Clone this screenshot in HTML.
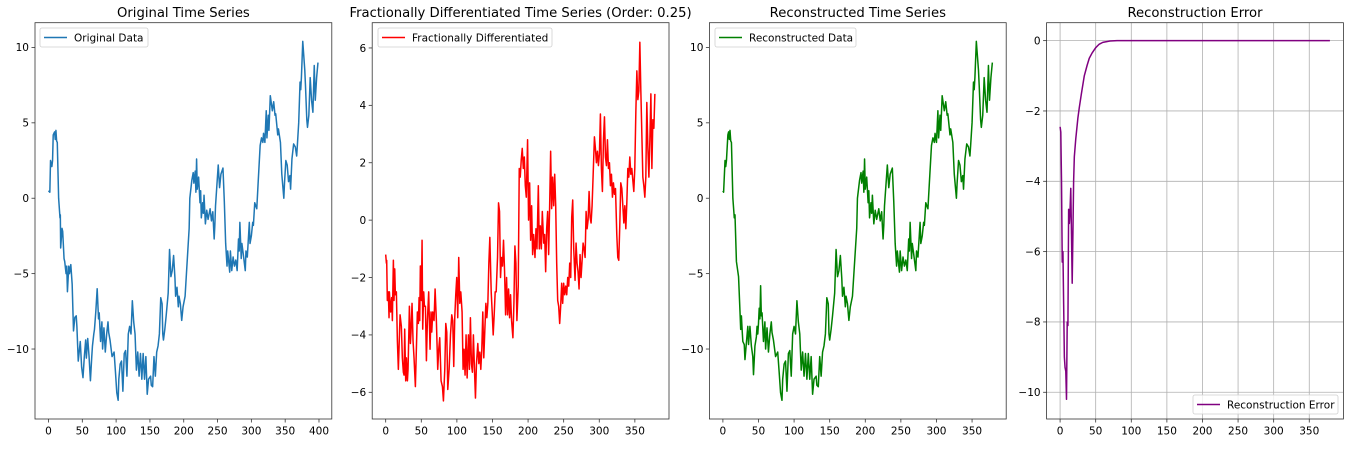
<!DOCTYPE html>
<html><head><meta charset="utf-8"><style>
html,body{margin:0;padding:0;background:#fff;}
svg{display:block;font-family:"DejaVu Sans","Liberation Sans",sans-serif;}
</style></head><body>
<svg id="fig" width="1358" height="455" viewBox="0 0 1358 455" xmlns="http://www.w3.org/2000/svg"></svg>
<script>
const originalData = [[0,0.5],[2,0.4],[3,2.5],[5,2.1],[6,2.5],[7,4.2],[9,4.4],[10,3.9],[11,4.5],[12,3.8],[13,3.7],[15,0],[17,-1.3],[17.5,-1.1],[18,-3.3],[20,-2],[21,-2.2],[23,-4],[24,-4.2],[26,-5],[27,-4.5],[28,-6.2],[30,-4.5],[31,-5],[33,-4.4],[35,-5.7],[37,-8.8],[39,-7.9],[41,-7.8],[42,-8.5],[44,-10.8],[47,-9.5],[49,-11.2],[51,-11.9],[53,-10.5],[55,-9.4],[56,-10.6],[58,-9.3],[60,-10.5],[62,-12.1],[64,-10.5],[65,-9.8],[67,-9],[68,-8.7],[70,-7.5],[72,-6],[74,-8],[75,-7.6],[77,-9.5],[79,-8.2],[80,-10],[82,-8.6],[84,-10.2],[86,-9],[88,-8.2],[89,-8.9],[91,-9.4],[94,-10.5],[97,-10.2],[99,-11.5],[101,-12.9],[103,-13.4],[104,-12],[106,-11],[108,-10.8],[110,-12.8],[112,-10.3],[114,-10.1],[116,-11.8],[118,-9],[120,-8.5],[122,-9],[124,-6.8],[126,-8.2],[128,-9],[130,-11.4],[132,-10.2],[134,-11.8],[136,-10.3],[138,-12],[140,-10.3],[142,-12],[144,-10.5],[146,-13],[148,-12],[151,-11.8],[152,-12.4],[154,-12.5],[156,-10.5],[158,-11.8],[160,-10.2],[162,-9.8],[164,-9],[166,-6.6],[168,-7],[169,-9],[170,-9.4],[172,-8.7],[174,-7.8],[177,-6.3],[179,-3.4],[181,-5.2],[183,-4.8],[185,-3.8],[187,-5.3],[188,-6.5],[190,-5.9],[192,-7.2],[193,-6.5],[195,-7],[197,-8.1],[199,-7.2],[202,-6.5],[204,-5],[208,-2],[209,0],[212,1.2],[214,1.7],[215,1],[217,1.8],[218,0.4],[219,2.6],[220,0.6],[222,1.4],[224,-0.3],[225,0.5],[226,-1.3],[228,-0.3],[229,-1],[230,0.2],[232,-1.7],[234,-0.8],[236,-1.4],[239,-0.7],[241,-1.5],[243,-0.9],[245,-2.7],[246,-1.8],[247,-0.5],[251,2.2],[253,0.7],[255,1.6],[258,2],[260,-0.2],[262,-3],[264,-4.5],[265,-3.5],[268,-4.9],[269,-3.5],[271,-4.8],[273,-3.9],[275,-4.5],[277,-4.1],[279,-4.8],[281,-2.7],[282,-3.5],[283,-1.6],[285,-4],[286,-3],[288,-3.7],[291,-4.8],[292,-3.5],[294,-3.9],[297,-1.6],[298,-3],[300,-2.5],[302,-1.6],[303,-1.8],[305,-0.3],[308,-0.7],[310,1],[313,3.5],[315,4],[317,3.7],[318,4.3],[320,3.7],[322,5.8],[323,4],[325,5.5],[326,4.5],[328,6.8],[331,5.8],[333,6.4],[335,5.5],[336,5.6],[339,4.2],[340,4.6],[343,3.7],[345,1.6],[348,0],[349,1],[351,2.5],[353,2.2],[355,1.1],[357,1.5],[358,0.6],[360,2.6],[362.5,3.6],[365,3.4],[367,2.8],[368,3.5],[370,5],[372,7.7],[373,7.2],[374,8],[376,10.4],[379,8.5],[380,7.5],[382,5.2],[383,4.7],[385,5.5],[387,8],[389,6.5],[391,5.7],[393,8.8],[394.5,6.5],[396.5,8],[398.5,9]];

const fracData = [[0,-1.2],[1,-1.5],[1.4,-1.4],[2.3,-2.8],[3.7,-2.5],[4.7,-3.4],[5.2,-2.5],[6.1,-2.9],[7,-3.2],[8.4,-2.7],[9.4,-3.5],[9.8,-2.8],[10.8,-1.4],[11.7,-2.8],[12.7,-1.7],[13.6,-2.6],[15,-2.5],[16.4,-4.2],[17.8,-5.2],[18.7,-4.5],[20.2,-3.3],[21.1,-3.5],[22,-3.7],[23.4,-4.8],[24.8,-5.3],[25.8,-5.4],[26.7,-3.8],[28.1,-5.6],[29.1,-4.8],[30.5,-5.6],[31.4,-5.2],[33.3,-3],[34.7,-4.3],[35.6,-3.9],[37,-2.9],[38.4,-4.2],[39.8,-4.8],[41.7,-5.8],[43.1,-4.5],[44.5,-3.2],[45.9,-3.6],[46.9,-2.7],[47.8,-3.5],[48.7,-1.6],[50.1,-2.8],[51.1,-0.7],[52,-3.8],[53.4,-2.5],[54.4,-3],[55.8,-3],[57.2,-4.9],[58.6,-3.5],[60.4,-2.5],[62.3,-4.5],[63.7,-3.2],[64.7,-3.9],[66.1,-3.2],[67.9,-3.5],[69.4,-2.4],[71.2,-3.5],[73.1,-5.2],[74.5,-4.5],[75.9,-4.1],[77.8,-5.6],[79.7,-5.8],[81.1,-6.3],[83,-5.2],[84.4,-3.6],[85.8,-3.9],[87.2,-5.9],[89.1,-5.2],[91,-4],[92.8,-3.3],[94.2,-3.5],[95.6,-5.1],[97,-3.4],[98.4,-2.6],[99.8,-2],[101.2,-3.4],[102.6,-1.3],[104.1,-2.9],[105.5,-2.5],[107.3,-3.2],[108.7,-5.2],[110.1,-4.5],[111.5,-5.4],[112.9,-4],[114.4,-5.5],[116.2,-4],[117.6,-5.2],[119,-3.4],[120.4,-5],[121.8,-5.3],[123.2,-4],[124.7,-5.2],[126.1,-6.2],[127.5,-5],[129.4,-4.3],[130.8,-5],[132.2,-4.6],[133.6,-5.2],[135,-4.5],[136.4,-3.2],[137.8,-4.8],[139.3,-3.8],[140.7,-2.9],[142.1,-3.4],[143.5,-2.9],[144.9,-1.5],[146.3,-0.6],[148.2,-2.5],[149.6,-3.2],[151,-4],[152.4,-3.3],[153.8,-2.5],[155.2,-2.5],[157.1,-1.3],[158.5,0.6],[159.9,0.3],[161.3,-2],[162.7,-1.3],[164.1,-1.6],[165.5,-0.7],[167,-1.8],[168.4,-3.3],[169.8,-2],[171.2,-3.3],[172.6,-2.4],[174,-3.4],[175.4,-2.6],[176.8,-3.5],[178.7,-4.1],[180.1,-2.9],[181.5,-0.9],[182.9,-1.5],[184.3,-3.5],[186.2,-2.3],[187.6,1.8],[189,1.5],[190.4,2.1],[191.8,2.5],[193.3,1.8],[194.7,2.2],[196.1,1.2],[197.5,0.8],[199.3,2.8],[200.7,0],[202.2,1.3],[203.6,-0.7],[205,0.5],[206.4,-1.2],[207.8,-0.5],[209.7,-1.3],[211.1,-0.3],[212.5,-1],[214.4,1.2],[215.8,-1],[217.2,-0.2],[218.6,-1],[220,0.3],[221.9,-0.8],[223.3,-0.5],[224.7,-1.8],[226.1,-0.3],[227.5,0.3],[228.9,-1.2],[230.3,0.5],[231.7,2.4],[233.1,0.4],[234.5,1.5],[236,0.5],[237.4,1.6],[238.8,0.5],[240.2,-1.5],[241.6,-2.8],[243,-3],[244.4,-3.6],[245.8,-3],[247.2,-2.2],[248.6,-2.9],[250,-2.2],[251.4,-2.6],[252.9,-2.3],[254.3,-2.6],[255.7,-2],[257.1,-2.3],[258.5,-1.5],[259.9,-2],[261.3,0.1],[262.7,0.7],[264.1,-1],[266,-2.1],[267.4,-0.8],[268.8,-1.5],[270.2,-1.8],[271.6,-2.4],[273,-1.2],[274.4,-2],[275.9,-1.4],[277.3,-0.8],[278.7,-1],[280.1,-1.3],[281.5,0.3],[282.9,-0.3],[284.3,0],[285.7,1],[287.1,0.1],[288.5,-0.1],[289.9,0.5],[291.3,1.5],[293.2,2.9],[294.6,2.5],[296,2],[297.4,2.4],[298.8,1.9],[300.2,2.3],[301.6,3.7],[303,1.8],[304.4,1],[305.9,2.8],[307.3,3.6],[308.7,2.2],[310.1,1.9],[311.5,2.8],[312.9,1.8],[314.3,2],[315.7,1.2],[317.1,1.6],[318.5,0.8],[319.9,1.3],[321.3,0.9],[322.8,1.1],[324.6,-0.5],[326,-1.3],[327.4,-1.4],[328.8,-0.2],[330.2,1.3],[331.7,1.1],[333.1,0.5],[334.5,-0.1],[335.9,0.5],[337.3,-0.3],[338.7,0.6],[340.1,1.8],[341.5,1.5],[342.9,2.2],[344.3,1.6],[345.7,1.8],[347.1,1.4],[348.5,1],[349.9,1.8],[351.4,3.8],[352.8,5.2],[354.2,4.2],[355.6,4.5],[357,6.2],[358.4,4.5],[359.8,3],[361.2,1.5],[362.6,1.2],[364,0.8],[365.4,1.5],[366.8,4.1],[368.3,2.5],[369.7,1.5],[371.1,2.8],[372.5,4.4],[373.9,1.8],[375.3,3.5],[376.7,3.2],[378.1,4.4]];

const reconData = [[0,0.5],[1,0.4],[3,2.5],[4,2.1],[5,2.5],[7,4.2],[8,4.4],[9,3.9],[10,4.5],[11,3.8],[12,3.7],[14,0],[16,-1.3],[17,-1.1],[19,-4.2],[22,-5.2],[24,-7.5],[25,-8.7],[26,-7.8],[27,-8.7],[28,-9.5],[30,-9.7],[31,-10.7],[33,-9.6],[35,-8.5],[36,-9.7],[38,-8.5],[40,-9.8],[42,-10.5],[43,-11.7],[45,-9.8],[47,-9.2],[48,-8.5],[49,-9],[50,-8.3],[51,-7.3],[52,-8],[53,-5.8],[54,-7.8],[55,-7.6],[57,-9.5],[59,-8.2],[60,-10],[62,-8.6],[64,-10.2],[66,-9],[68,-8.2],[69,-8.9],[71,-9.4],[74,-10.5],[77,-10.2],[79,-11.5],[81,-12.9],[83,-13.4],[84,-12],[86,-11],[88,-10.8],[90,-12.8],[92,-10.3],[94,-10.1],[96,-11.8],[98,-9],[100,-8.5],[102,-9],[104,-6.8],[106,-8.2],[108,-9],[110,-11.4],[112,-10.2],[114,-11.8],[116,-10.3],[118,-12],[120,-10.3],[122,-12],[124,-10.5],[126,-13],[128,-12],[131,-11.8],[132,-12.4],[134,-12.5],[136,-10.5],[138,-11.8],[140,-10.2],[142,-9.8],[144,-9],[146,-6.6],[148,-7],[149,-9],[150,-9.4],[152,-8.7],[154,-7.8],[157,-6.3],[159,-3.4],[161,-5.2],[163,-4.8],[165,-3.8],[167,-5.3],[168,-6.5],[170,-5.9],[172,-7.2],[173,-6.5],[175,-7],[177,-8.1],[179,-7.2],[182,-6.5],[184,-5],[188,-2],[189,0],[192,1.2],[194,1.7],[195,1],[197,1.8],[198,0.4],[199,2.6],[200,0.6],[202,1.4],[204,-0.3],[205,0.5],[206,-1.3],[208,-0.3],[209,-1],[210,0.2],[212,-1.7],[214,-0.8],[216,-1.4],[219,-0.7],[221,-1.5],[223,-0.9],[225,-2.7],[226,-1.8],[227,-0.5],[231,2.2],[233,0.7],[235,1.6],[238,2],[240,-0.2],[242,-3],[244,-4.5],[245,-3.5],[248,-4.9],[249,-3.5],[251,-4.8],[253,-3.9],[255,-4.5],[257,-4.1],[259,-4.8],[261,-2.7],[262,-3.5],[263,-1.6],[265,-4],[266,-3],[268,-3.7],[271,-4.8],[272,-3.5],[274,-3.9],[277,-1.6],[278,-3],[280,-2.5],[282,-1.6],[283,-1.8],[285,-0.3],[288,-0.7],[290,1],[293,3.5],[295,4],[297,3.7],[298,4.3],[300,3.7],[302,5.8],[303,4],[305,5.5],[306,4.5],[308,6.8],[311,5.8],[313,6.4],[315,5.5],[316,5.6],[319,4.2],[320,4.6],[323,3.7],[325,1.6],[328,0],[329,1],[331,2.5],[333,2.2],[335,1.1],[337,1.5],[338,0.6],[340,2.6],[342.5,3.6],[345,3.4],[347,2.8],[348,3.5],[350,5],[352,7.7],[353,7.2],[354,8],[356,10.4],[359,8.5],[360,7.5],[362,5.2],[363,4.7],[365,5.5],[367,8],[369,6.5],[371,5.7],[373,8.8],[374.5,6.5],[376.5,8],[378.5,9]];

const errorData = [[0,-2.45],[1,-2.6],[2,-4],[3,-6.3],[4,-6.0],[5,-7.5],[6,-9.0],[7,-9.3],[8,-9.4],[9,-10.2],[10,-8.0],[11,-8.1],[12,-4.8],[13,-5.2],[14,-4.8],[15,-4.2],[16,-5.5],[17,-6.9],[18,-5.5],[19,-4],[20,-3.3],[22,-2.8],[25,-2.2],[27,-1.9],[30,-1.5],[34,-1.0],[38,-0.7],[41,-0.5],[45,-0.35],[50,-0.2],[55,-0.1],[60,-0.05],[70,-0.01],[80,0],[379,0]];

const xTicks1 = [0,50,100,150,200,250,300,350,400];
const xTicks2 = [0,50,100,150,200,250,300,350];
const yTicksOrig = [-10,-5,0,5,10];
const yTicksFrac = [-6,-4,-2,0,2,4,6];
const yTicksErr = [-10,-8,-6,-4,-2,0];

const NS = "http://www.w3.org/2000/svg";
const svg = document.getElementById('fig');
function mk(tag, attrs, parent){
  const e = document.createElementNS(NS, tag);
  for (const k in attrs) e.setAttribute(k, attrs[k]);
  (parent||svg).appendChild(e);
  return e;
}
const TOP = 22.7, BOT = 419, W = 296.8;

function panel(idx, name, title, data, color, xdom, ydom, xt, yt, legendLabel, legendPos, grid){
  const L = 35 + idx*337.2, R = L + W;
  const sx = v => L + (v - xdom[0])/(xdom[1]-xdom[0])*(R-L);
  const sy = v => BOT - (v - ydom[0])/(ydom[1]-ydom[0])*(BOT-TOP);
  const g = mk('g', {});
  
  
  const t = mk('text', {x:(L+R)/2, y:17, 'text-anchor':'middle', 'font-size':'13.2', fill:'#000'}, g);
  t.textContent = title;
  
  
  if (grid) {
    xt.forEach(v => { const l = mk('line', {x1:sx(v), x2:sx(v), y1:TOP, y2:BOT, stroke:'#b0b0b0', 'stroke-width':0.8}, g);
        });
    yt.forEach(v => { const l = mk('line', {x1:L, x2:R, y1:sy(v), y2:sy(v), stroke:'#b0b0b0', 'stroke-width':0.8}, g);
        });
  }
  const d = data.map((p,i) => (i?'L':'M') + sx(p[0]).toFixed(2) + ',' + sy(p[1]).toFixed(2)).join('');
  const path = mk('path', {d:d, fill:'none', stroke:color, 'stroke-width':1.5, 'stroke-linejoin':'round'}, g);
  
  
  const frame = mk('rect', {x:L, y:TOP, width:R-L, height:BOT-TOP, fill:'none', stroke:'#333', 'stroke-width':0.8}, g);
  
  
  xt.forEach(v => {
    mk('line', {x1:sx(v), x2:sx(v), y1:BOT, y2:BOT+3.5, stroke:'#333', 'stroke-width':0.8}, g);
    const tx = mk('text', {x:sx(v), y:BOT+15.5, 'text-anchor':'middle', 'font-size':'10.5', fill:'#000'}, g);
    tx.textContent = v;
    
    
  });
  yt.forEach(v => {
    mk('line', {x1:L-3.5, x2:L, y1:sy(v), y2:sy(v), stroke:'#333', 'stroke-width':0.8}, g);
    const ty = mk('text', {x:L-6, y:sy(v)+3.8, 'text-anchor':'end', 'font-size':'10.5', fill:'#000'}, g);
    ty.textContent = v < 0 ? '\u2212' + Math.abs(v) : String(v);
    
    
  });
  const lg = mk('g', {}, g);
  
  
  mk('rect', {x:legendPos[0], y:legendPos[1], width:legendPos[2], height:19, rx:2, fill:'#fff', 'fill-opacity':0.8, stroke:'#d0d0d0', 'stroke-width':0.8}, lg);
  mk('line', {x1:legendPos[0]+4, x2:legendPos[0]+27, y1:legendPos[1]+9.5, y2:legendPos[1]+9.5, stroke:color, 'stroke-width':1.5}, lg);
  const lt = mk('text', {x:legendPos[0]+34, y:legendPos[1]+13.5, 'font-size':'10.5', fill:'#000'}, lg);
  lt.textContent = legendLabel;
  
  
}

panel(0, 'original-panel', 'Original Time Series', originalData, '#1f77b4', [-19.95,418.95], [-14.64,11.64], xTicks1, yTicksOrig, 'Original Data', [40,28,108], false);
panel(1, 'fractional-panel', 'Fractionally Differentiated Time Series (Order: 0.25)', fracData, '#ff0000', [-18.95,397.95], [-6.93,6.88], xTicks2, yTicksFrac, 'Fractionally Differentiated', [378,28,174], false);
panel(2, 'reconstructed-panel', 'Reconstructed Time Series', reconData, '#008000', [-18.95,397.95], [-14.64,11.64], xTicks2, yTicksOrig, 'Reconstructed Data', [715,28,141], false);
panel(3, 'error-panel', 'Reconstruction Error', errorData, '#800080', [-18.95,397.95], [-10.76,0.51], xTicks2, yTicksErr, 'Reconstruction Error', [1193,395,145], true);
</script>
</body></html>
